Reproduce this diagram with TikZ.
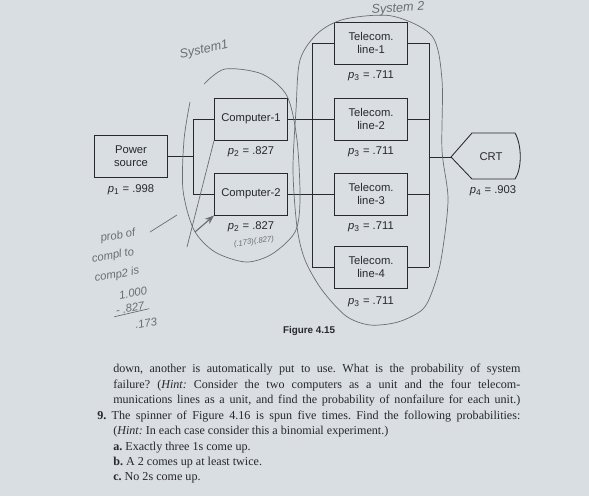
\documentclass[tikz,border=0pt]{standalone}
\usepackage{fontspec}
\setmainfont{Liberation Serif}
\setsansfont{Liberation Sans}
\usetikzlibrary{arrows.meta,calc}
\definecolor{paper}{RGB}{216,222,225}
\definecolor{ink}{RGB}{40,40,45}
\definecolor{pencil}{RGB}{105,110,115}
\frenchspacing

\begin{document}
\begin{tikzpicture}[x=0.025cm, y=-0.025cm, >=Stealth,
  unitbox/.style={draw=ink, line width=0.6pt, minimum width=1.825cm, minimum height=1.05cm,
    align=center, font=\sffamily\fontsize{8}{9.5}\selectfont, text=ink},
  prob/.style={font=\sffamily\fontsize{8}{9.5}\selectfont, text=ink},
  wire/.style={draw=ink, line width=0.6pt},
  bodyline/.style={anchor=base west, inner sep=0pt, font=\fontsize{8.6}{10}\selectfont, text=ink},
  hand/.style={font=\sffamily\itshape\fontsize{8}{9}\selectfont, text=pencil, inner sep=0pt},
  scribble/.style={draw=pencil, line width=0.5pt}]

  % Define page
  \fill[paper] (0,0) rectangle (589,496);
  \useasboundingbox (0,0) rectangle (589,496);
  \clip (0,0) rectangle (589,496);

  % Define units
  \node[unitbox] (power) at (131,156) {Power\\source};
  \node[unitbox] (comp1) at (251,119) {Computer-1};
  \node[unitbox] (comp2) at (251,194) {Computer-2};
  \node[unitbox] (tel1) at (371,43) {Telecom.\\line-1};
  \node[unitbox] (tel2) at (371,119) {Telecom.\\line-2};
  \node[unitbox] (tel3) at (371,194) {Telecom.\\line-3};
  \node[unitbox] (tel4) at (371,267) {Telecom.\\line-4};
  \node[prob] (crt) at (491,157) {CRT};

  % Define probabilities
  \node[prob] (p1) at (131,190) {{\itshape p}\textsubscript{1} = .998};
  \node[prob] (p2a) at (251,152) {{\itshape p}\textsubscript{2} = .827};
  \node[prob] (p2b) at (251,227) {{\itshape p}\textsubscript{2} = .827};
  \node[prob] (p3a) at (371,76) {{\itshape p}\textsubscript{3} = .711};
  \node[prob] (p3b) at (371,152) {{\itshape p}\textsubscript{3} = .711};
  \node[prob] (p3c) at (371,227) {{\itshape p}\textsubscript{3} = .711};
  \node[prob] (p3d) at (371,302) {{\itshape p}\textsubscript{3} = .711};
  \node[prob] (p4) at (493,191) {{\itshape p}\textsubscript{4} = .903};

  % Define bus points
  \coordinate (inA) at (193,156);
  \coordinate (inA1) at (193,119);
  \coordinate (inA2) at (193,194);
  \coordinate (inB1) at (312,43);
  \coordinate (inB4) at (312,267);
  \coordinate (outB1) at (429,43);
  \coordinate (outB4) at (429,267);
  \coordinate (outB) at (429,157);
  \coordinate (crtTip) at (451,157);

  % Draw CRT outline
  \draw[wire] (crtTip) -- ($(crt)+(-19,-24)$) -- ($(crt)+(24,-24)$)
    .. controls ($(crt)+(31,-12)$) and ($(crt)+(31,12)$) .. ($(crt)+(24,22)$)
    -- ($(crt)+(-19,22)$) -- cycle;

  % Draw wires between units
  \draw[wire] (power.east) -- (inA);
  \draw[wire] (inA1) -- (inA2);
  \draw[wire] (inA1) -- (comp1.west);
  \draw[wire] (inA2) -- (comp2.west);
  \draw[wire] (comp1.east) -- (tel2.west);
  \draw[wire] (comp2.east) -- (tel3.west);
  \draw[wire] (inB1) -- (inB4);
  \draw[wire] (inB1) -- (tel1.west);
  \draw[wire] (inB4) -- (tel4.west);
  \draw[wire] (outB1) -- (outB4);
  \foreach \t in {tel1,tel2,tel3,tel4}
    \draw[wire] (\t.east) -- (\t.east -| outB1);
  \draw[wire] (outB) -- (crtTip);

  % Caption
  \node[font=\sffamily\bfseries\fontsize{7}{8}\selectfont, text=ink] (cap) at (309,331) {Figure 4.15};

  % Text below the figure
  \node[bodyline] (l1) at (113,372) {\makebox[10.175cm][s]{down, another is automatically put to use. What is the probability of system}};
  \node[bodyline] (l2) at (113,388) {\makebox[10.175cm][s]{failure? (\textit{Hint:} Consider the two computers as a unit and the four telecom-}};
  \node[bodyline] (l3) at (113,403) {\makebox[10.175cm][s]{munications lines as a unit, and find the probability of nonfailure for each unit.)}};
  \node[bodyline] (l4) at (97,419) {\makebox[10.575cm][s]{\textbf{9.} The spinner of Figure 4.16 is spun five times. Find the following probabilities:}};
  \node[bodyline] (l5) at (113,434) {(\textit{Hint:} In each case consider this a binomial experiment.)};
  \node[bodyline] (l6) at (113,450) {\textbf{a.} Exactly three 1s come up.};
  \node[bodyline] (l7) at (113,465) {\textbf{b.} A 2 comes up at least twice.};
  \node[bodyline] (l8) at (113,480) {\textbf{c.} No 2s come up.};

  % Pencil notes
  \node[hand, rotate=12, font=\sffamily\itshape\fontsize{9}{10}\selectfont] (sys1) at (204,50) {System1};
  \node[hand, rotate=4, font=\sffamily\itshape\fontsize{9}{10}\selectfont] (sys2) at (398,9) {System 2};
  \node[hand, rotate=8, font=\sffamily\itshape\fontsize{5.5}{6}\selectfont] (pq) at (254,242) {(.173)(.827)};
  \node[hand, rotate=10] (n1) at (118,236) {prob of};
  \node[hand, rotate=10] (n2) at (113,256) {compl to};
  \node[hand, rotate=10] (n3) at (117,275) {comp2 is};
  \node[hand, rotate=10] (n4) at (133,293) {1.000};
  \node[hand, rotate=10] (n5) at (130,308) {{-} .827};
  \node[hand, rotate=10] (n6) at (146,323) {.173};
  \draw[scribble] ($(n5.south west)+(-2,2)$) -- ($(n5.south east)+(4,-1)$);

  % Pencil loops and arrows
  \draw[scribble] plot[smooth] coordinates {(204,84) (225,69) (262,74) (287,96) (297,140)
    (300,200) (295,232) (272,254) (246,262) (215,252) (194,230) (183,190) (184,140) (190,102)};
  \draw[scribble] (187,247) -- (comp1.south west);
  \draw[scribble] plot[smooth cycle] coordinates {(300,60) (318,33) (345,19) (392,16) (432,36)
    (442,80) (442,150) (448,200) (441,260) (432,292) (422,310) (398,322) (370,325)
    (346,316) (322,290) (305,260) (297,227) (293,170) (296,110)};
  \coordinate (noteEnd) at (150,232);
  \draw[scribble] (noteEnd) -- (177,215);
  \coordinate (arrowStart) at (195,232);
  \draw[scribble, line width=0.8pt, ->] (arrowStart) -- (comp2.south west);
\end{tikzpicture}
\end{document}
